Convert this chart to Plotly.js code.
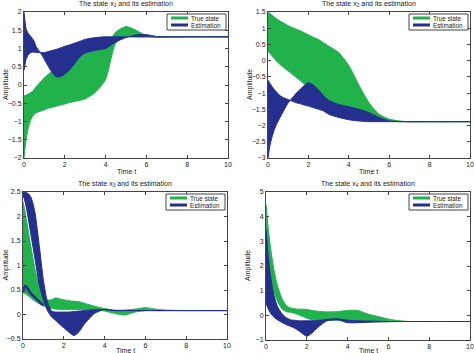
<!DOCTYPE html>
<html><head><meta charset="utf-8">
<script src="https://cdn.plot.ly/plotly-3.0.1.min.js"></script>
<style>html,body{margin:0;padding:0;background:#fff}#chart{width:474px;height:353px}</style>
</head><body><div id="chart"></div>
<script>
// shared time grid
const T = [0,0.1,0.2,0.3,0.4,0.5,0.6,0.8,1.0,1.2,1.4,1.6,1.8,2.0,2.25,2.5,2.75,3.0,3.5,4.0,4.5,5.0,5.5,6.0,6.5,7.0,8.0,9.0,10];

// state x1
const x1TrueA = [-2.0,-1.5,-1.2,-1.0,-0.88,-0.8,-0.76,-0.72,-0.68,-0.64,-0.61,-0.58,-0.55,-0.52,-0.48,-0.45,-0.42,-0.38,-0.2,0.15,1.15,1.33,1.32,1.32,1.32,1.32,1.32,1.32,1.32];
const x1TrueB = [-0.3,-0.28,-0.25,-0.22,-0.18,-0.12,-0.05,0.08,0.2,0.3,0.4,0.48,0.58,0.68,0.78,0.87,0.92,0.95,0.97,1.05,1.45,1.6,1.5,1.35,1.3,1.31,1.32,1.32,1.32];
const x1EstA = [2.0,1.55,1.42,1.35,1.28,1.2,1.05,0.9,0.89,0.92,0.95,0.98,1.02,1.06,1.1,1.15,1.2,1.25,1.3,1.32,1.32,1.32,1.32,1.32,1.32,1.32,1.32,1.32,1.32];
const x1EstB = [0.4,0.7,0.82,0.88,0.9,0.9,0.89,0.88,0.7,0.5,0.33,0.22,0.23,0.3,0.42,0.6,0.78,0.88,0.95,1.0,1.18,1.3,1.37,1.38,1.33,1.32,1.32,1.32,1.32];

// state x2
const x2TrueA = [1.5,1.45,1.4,1.35,1.3,1.26,1.22,1.15,1.08,1.02,0.97,0.92,0.86,0.8,0.72,0.65,0.55,0.45,0.25,-0.15,-0.75,-1.3,-1.65,-1.8,-1.86,-1.88,-1.88,-1.88,-1.88];
const x2TrueB = [0.3,0.22,0.15,0.08,0.0,-0.06,-0.12,-0.22,-0.32,-0.42,-0.52,-0.62,-0.72,-0.8,-0.92,-1.03,-1.15,-1.25,-1.35,-1.45,-1.55,-1.65,-1.75,-1.83,-1.87,-1.88,-1.88,-1.88,-1.88];
const x2EstA = [-0.6,-0.7,-0.8,-0.88,-0.95,-1.02,-1.08,-1.15,-1.2,-1.25,-1.3,-1.33,-1.37,-1.4,-1.45,-1.5,-1.55,-1.65,-1.75,-1.82,-1.86,-1.88,-1.88,-1.88,-1.88,-1.88,-1.88,-1.88,-1.88];
const x2EstB = [-3.0,-2.6,-2.35,-2.15,-2.0,-1.87,-1.75,-1.52,-1.3,-1.15,-1.0,-0.88,-0.76,-0.68,-0.75,-0.9,-1.08,-1.22,-1.35,-1.42,-1.5,-1.6,-1.75,-1.85,-1.88,-1.88,-1.88,-1.88,-1.88];

// state x3
const x3TrueA = [2.3,2.1,1.85,1.6,1.35,1.12,0.9,0.6,0.42,0.3,0.3,0.34,0.32,0.3,0.28,0.27,0.26,0.23,0.17,0.12,0.09,0.09,0.11,0.14,0.11,0.09,0.08,0.08,0.08];
const x3TrueB = [0.45,0.43,0.4,0.37,0.33,0.3,0.27,0.22,0.18,0.14,0.12,0.11,0.1,0.1,0.1,0.1,0.1,0.1,0.1,0.07,0.02,-0.01,0.05,0.08,0.08,0.08,0.08,0.08,0.08];
const x3EstA = [2.5,2.5,2.48,2.45,2.38,2.25,2.05,1.4,0.7,0.25,0.07,0.05,0.05,0.05,0.05,0.06,0.07,0.08,0.1,0.1,0.08,0.08,0.08,0.08,0.08,0.08,0.08,0.08,0.08];
const x3EstB = [2.45,2.3,2.1,1.85,1.6,1.35,1.1,0.6,0.3,0.08,-0.05,-0.12,-0.2,-0.27,-0.36,-0.43,-0.35,-0.2,0.02,0.1,0.08,0.08,0.08,0.08,0.08,0.08,0.08,0.08,0.08];
const x3EstLowT = [0,0.1,0.2,0.3,0.4,0.5,0.6,0.8,1.0];
const x3EstLow = [0.45,0.58,0.55,0.48,0.42,0.38,0.34,0.26,0.18];

// state x4
const x4TrueA = [4.5,3.6,2.9,2.3,1.8,1.4,1.1,0.65,0.4,0.3,0.27,0.25,0.25,0.24,0.2,0.17,0.15,0.14,0.15,0.2,0.2,0.05,-0.05,-0.15,-0.22,-0.25,-0.25,-0.25,-0.25];
const x4TrueB = [3.2,2.3,1.7,1.25,0.95,0.7,0.5,0.25,0.15,0.12,0.08,0.02,-0.05,-0.12,-0.18,-0.2,-0.2,-0.2,-0.2,-0.2,-0.2,-0.21,-0.21,-0.22,-0.24,-0.25,-0.25,-0.25,-0.25];
const x4EstA = [3.5,2.5,1.75,1.2,0.8,0.5,0.3,0.05,-0.1,-0.18,-0.2,-0.22,-0.22,-0.22,-0.22,-0.21,-0.19,-0.16,-0.14,-0.2,-0.22,-0.23,-0.24,-0.25,-0.25,-0.25,-0.25,-0.25,-0.25];
const x4EstB = [0.5,0.28,0.12,0.0,-0.08,-0.15,-0.2,-0.3,-0.38,-0.45,-0.52,-0.62,-0.75,-0.85,-0.72,-0.52,-0.35,-0.22,-0.18,-0.3,-0.3,-0.28,-0.27,-0.26,-0.25,-0.25,-0.25,-0.25,-0.25];

const stateNames = ['x<sub>1</sub>','x<sub>2</sub>','x<sub>3</sub>','x<sub>4</sub>'];
const legendNames = ['True state','Estimation'];
const yRanges = [[-2,2],[-3,1.5],[-0.5,2.5],[-1,5]];
const yDticks = [0.5,0.5,0.5,1];

const GREEN = '#22b24c';
const BLUE = '#242f8e';

const traces = [];
function band(t, a, b, color, k) {
  const xa = 'x' + (k === 1 ? '' : k), ya = 'y' + (k === 1 ? '' : k);
  traces.push({x: t, y: a, xaxis: xa, yaxis: ya, mode: 'lines', line: {color: color, width: 1, shape: 'spline', smoothing: 0.6}, showlegend: false, hoverinfo: 'skip'});
  traces.push({x: t, y: b, xaxis: xa, yaxis: ya, mode: 'lines', line: {color: color, width: 1, shape: 'spline', smoothing: 0.6}, fill: 'tonexty', fillcolor: color, showlegend: false, hoverinfo: 'skip'});
}
band(T, x1TrueA, x1TrueB, GREEN, 1);
band(T, x1EstA, x1EstB, BLUE, 1);
band(T, x2TrueA, x2TrueB, GREEN, 2);
band(T, x2EstA, x2EstB, BLUE, 2);
band(T, x3TrueA, x3TrueB, GREEN, 3);
band(T, x3EstA, x3EstB, BLUE, 3);
traces.push({x: x3EstLowT, y: x3EstLow, xaxis: 'x3', yaxis: 'y3', mode: 'lines', line: {color: BLUE, width: 2.5, shape: 'spline'}, showlegend: false, hoverinfo: 'skip'});
band(T, x4TrueA, x4TrueB, GREEN, 4);
band(T, x4EstA, x4EstB, BLUE, 4);

const dom = [
  {x: [24/474, 228/474], y: [1-158/353, 1-12/353]},
  {x: [268/474, 470/474], y: [1-158/353, 1-12/353]},
  {x: [23/474, 227/474], y: [1-339/353, 1-192/353]},
  {x: [266/474, 470/474], y: [1-340/353, 1-192/353]}
];
const timeShift = [-8, -8, -6, -5];

const FONT = 'Liberation Sans, Arial, sans-serif';
const layout = {
  width: 474, height: 353,
  margin: {l: 0, r: 0, t: 0, b: 0},
  paper_bgcolor: '#fff', plot_bgcolor: '#fff',
  font: {family: FONT, size: 7, color: '#222'},
  annotations: [], shapes: [],
  showlegend: false
};
for (let k = 1; k <= 4; k++) {
  const s = k === 1 ? '' : String(k);
  const d = dom[k-1];
  layout['xaxis' + s] = {domain: d.x, anchor: 'y' + s, range: [0, 10], dtick: 2, tick0: 0,
    showline: true, mirror: 'ticks', linecolor: '#444', linewidth: 1, ticks: 'inside', ticklen: 3, tickcolor: '#444',
    showgrid: false, zeroline: false, tickfont: {size: 7, family: FONT, color: '#222'}};
  layout['yaxis' + s] = {domain: d.y, anchor: 'x' + s, range: yRanges[k-1], dtick: yDticks[k-1],
    showline: true, mirror: 'ticks', linecolor: '#444', linewidth: 1, ticks: 'inside', ticklen: 3, tickcolor: '#444',
    showgrid: false, zeroline: false, tickfont: {size: 7, family: FONT, color: '#222'}};
  const cx = (d.x[0] + d.x[1]) / 2;
  layout.annotations.push({xref: 'paper', yref: 'paper', x: cx, y: d.y[1], yshift: 2, yanchor: 'bottom', xanchor: 'center', showarrow: false,
    text: 'The state ' + stateNames[k-1] + ' and its estimation', font: {size: 7, family: FONT, color: '#222'}});
  layout.annotations.push({xref: 'paper', yref: 'paper', x: cx, y: d.y[0], yshift: timeShift[k-1], yanchor: 'top', xanchor: 'center', showarrow: false,
    text: 'Time t', font: {size: 7, family: FONT, color: '#222'}});
  layout.annotations.push({xref: 'paper', yref: 'paper', x: d.x[0], xshift: -12, y: (d.y[0] + d.y[1]) / 2, xanchor: 'right', yanchor: 'middle', showarrow: false,
    textangle: -90, text: 'Amplitude', font: {size: 7, family: FONT, color: '#222'}});

  // legend box (drawn in axis-domain coordinates)
  const wpx = (d.x[1] - d.x[0]) * 474, hpx = (d.y[1] - d.y[0]) * 353;
  const xr = 'x' + s + ' domain', yr = 'y' + s + ' domain';
  const bx1 = 1 - 2 / wpx, bx0 = 1 - 61 / wpx, by1 = 1 - 2 / hpx, by0 = 1 - 18 / hpx;
  layout.shapes.push({type: 'rect', xref: xr, yref: yr, x0: bx0, x1: bx1, y0: by0, y1: by1,
    line: {color: '#444', width: 1}, fillcolor: '#fff', layer: 'above'});
  const cols = [GREEN, BLUE];
  for (let j = 0; j < 2; j++) {
    const yy = 1 - (6 + 7 * j) / hpx;
    layout.shapes.push({type: 'line', xref: xr, yref: yr, x0: 1 - 57 / wpx, x1: 1 - 40 / wpx, y0: yy, y1: yy,
      line: {color: cols[j], width: 3}, layer: 'above'});
    layout.annotations.push({xref: xr, yref: yr, x: 1 - 38 / wpx, y: yy, xanchor: 'left', yanchor: 'middle', showarrow: false,
      borderpad: 0, text: legendNames[j], font: {size: 6.3, family: FONT, color: '#222'}});
  }
}
Plotly.newPlot('chart', traces, layout, {staticPlot: true, displayModeBar: false});
</script></body></html>
